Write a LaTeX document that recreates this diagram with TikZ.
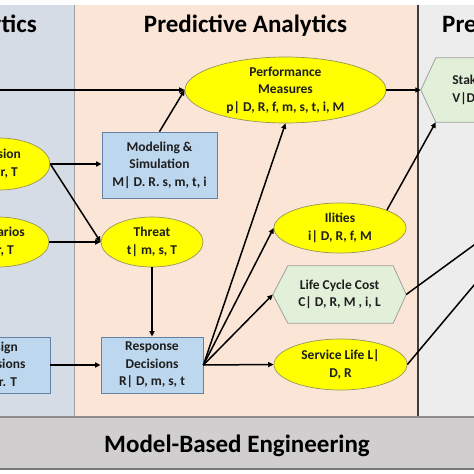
\documentclass[tikz,border=0pt]{standalone}
\usepackage{fontspec}
\setmainfont{Carlito}
\usetikzlibrary{arrows.meta,shapes.geometric,calc}
\pgfdeclarelayer{bg}
\pgfsetlayers{bg,main}
\definecolor{leftbg}{RGB}{214,220,229}
\definecolor{midbg}{RGB}{251,229,214}
\definecolor{rightbg}{RGB}{237,237,237}
\definecolor{bandbg}{RGB}{208,206,206}
\definecolor{yel}{RGB}{255,255,0}
\definecolor{yelb}{RGB}{150,150,90}
\definecolor{boxf}{RGB}{189,215,238}
\definecolor{boxb}{RGB}{100,130,165}
\definecolor{hexf}{RGB}{226,240,217}
\definecolor{hexb}{RGB}{160,160,160}
\definecolor{txtc}{RGB}{30,30,30}
\begin{document}
\begin{tikzpicture}[x=1pt,y=-1pt,
  txt/.style={font=\fontsize{13.5}{17.5}\selectfont\bfseries, text=txtc, align=center},
  ttl/.style={font=\fontsize{25}{30}\selectfont\bfseries, text=black, inner sep=0},
  yell/.style={ellipse, draw=yelb, line width=0.7pt, fill=yel, inner sep=0},
  bbox/.style={rectangle, draw=boxb, line width=0.8pt, fill=boxf, inner sep=0, txt},
  hexn/.style={rectangle, inner sep=0, txt},
  hexd/.style={draw=hexb, line width=0.8pt, fill=hexf},
  arr/.style={line width=1.5pt, -{Triangle[length=5.5pt,width=5pt]}},
  ln/.style={line width=1.5pt},
]
\useasboundingbox (0,0) rectangle (474,474);
\clip (0,0) rectangle (474,474);
\begin{pgfonlayer}{bg}
\clip (0,0) rectangle (474,474);
\fill[white] (0,0) rectangle (474,474);
\fill[leftbg] (0,5) rectangle (74,417);
\fill[midbg] (74,5) rectangle (418,417);
\fill[rightbg] (418,5) rectangle (474,417);
\draw[line width=1pt, draw={rgb,255:red,160;green,160;blue,160}] (74,5) -- (74,417);
\draw[line width=1.2pt, draw={rgb,255:red,60;green,60;blue,60}] (418,5) -- (418,417);
\fill[bandbg] (0,417) rectangle (474,469);
\draw[line width=1.5pt, draw={rgb,255:red,140;green,140;blue,140}] (0,417) -- (474,417);
\draw[line width=2pt, draw={rgb,255:red,120;green,120;blue,120}] (0,469) -- (474,469);
\end{pgfonlayer}

% titles
\node[ttl, anchor=base east] (t1) at (37,32) {Descriptive Analytics};
\node[ttl, anchor=base] (t2) at (245.5,32) {Predictive Analytics};
\node[ttl, anchor=base west] (t3) at (442,32) {Prescriptive Analytics};
\node[ttl, anchor=base] (t4) at (237,452) {Model-Based Engineering};

% nodes
\node[yell, minimum width=201pt, minimum height=66pt,
  label={[txt]center:{Performance\\Measures\\p| D, R, f, m, s, t, i, M}}] (pm) at (285.5,90) {};
\node[yell, minimum width=102pt, minimum height=52pt,
  label={[txt]center:{Mission\\m| r, T}}] (mi) at (-1,164) {};
\node[yell, minimum width=102pt, minimum height=50pt,
  label={[txt]center:{Scenarios\\s| r, T}}] (sc) at (-2,242) {};
\node[bbox, minimum width=102pt, minimum height=56pt] (dd) at (-1,365) {Design\\Decisions\\D| r. T};
\node[bbox, minimum width=115pt, minimum height=66pt] (ms) at (159.5,165) {Modeling \&\\Simulation\\M| D. R. s, m, t, i};
\node[yell, minimum width=102pt, minimum height=50pt,
  label={[txt]center:{Threat\\t| m, s, T}}] (th) at (152,242) {};
\node[bbox, minimum width=102pt, minimum height=56pt] (rd) at (152,365) {Response\\Decisions\\R| D, m, s, t};
\node[yell, minimum width=132pt, minimum height=50pt,
  label={[txt]center:{Ilities\\i| D, R, f, M}}] (il) at (340,228) {};
\node[hexn, minimum width=133pt, minimum height=57pt] (lc) at (339.5,294.5) {Life Cycle Cost\\C| D, R, M , i, L};
\node[yell, minimum width=133pt, minimum height=51pt,
  label={[txt]center:{Service Life L|\\D, R}}] (sl) at (340.5,364.5) {};
\node[hexn, minimum width=139pt, minimum height=64pt,
  label={[txt, align=left, anchor=west, xshift=28pt]west:{Stakeholder Value\\V|D, R, C, L}}] (sh) at (490.5,90) {};

\begin{pgfonlayer}{bg}
\clip (0,0) rectangle (474,474);
\draw[hexd] (lc.west) -- ([xshift=15pt]lc.north west) -- ([xshift=-13pt]lc.north east) -- (lc.east)
  -- ([xshift=-13pt]lc.south east) -- ([xshift=15pt]lc.south west) -- cycle;
\draw[hexd] (sh.west) -- ([xshift=15pt]sh.north west) -- ([xshift=-15pt]sh.north east) -- (sh.east)
  -- ([xshift=-15pt]sh.south east) -- ([xshift=15pt]sh.south west) -- cycle;
\end{pgfonlayer}

% free ends
\coordinate (lin) at (-5,90);
\coordinate (shbl) at ([xshift=15pt]sh.south west);
\coordinate (o1) at (480,240.6);
\coordinate (o2) at (480,278);

% connectors
\draw[arr] (lin) -- (pm.west);
\draw[arr] (pm.east) -- (sh.west);
\draw[arr] (ms.north) -- (pm.west);
\draw[arr] (mi.east) -- (mi.east -| ms.west);
\draw[arr] (mi.east) -- (th.west);
\draw[arr] (sc.east) -- (th.west);
\draw[arr] (dd.east) -- (rd.west);
\draw[arr] (th.south) -- (rd.north);
\draw[arr] (rd.east) -- (pm.south);
\draw[arr] (rd.east) -- (il.west);
\draw[arr] (rd.east) -- (lc.west);
\draw[arr] (rd.east) -- (sl.west);
\draw[arr] (il.north east) -- (shbl);
\draw[ln] (lc.east) -- (o1);
\draw[ln] (sl.east) -- (o2);
\end{tikzpicture}
\end{document}
